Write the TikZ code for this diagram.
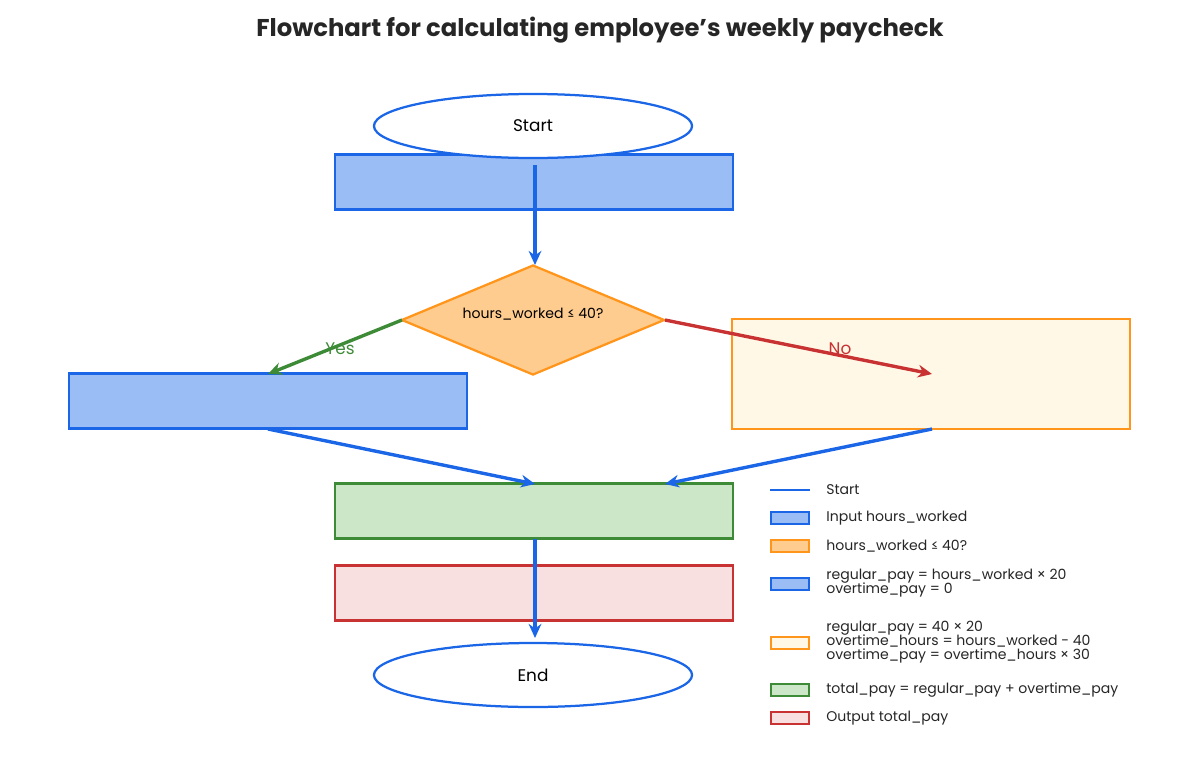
\documentclass[tikz,border=0pt]{standalone}
\usepackage{fontspec}
\setmainfont{Poppins}
\usetikzlibrary{shapes.geometric,arrows.meta}
\definecolor{bl}{HTML}{1A66E6}
\definecolor{blf}{HTML}{9BBDF5}
\definecolor{orf}{HTML}{FFCC8F}
\definecolor{ors}{HTML}{FF951A}
\definecolor{yf}{HTML}{FFF8E6}
\definecolor{gs}{HTML}{3D8B37}
\definecolor{gf}{HTML}{CCE6C8}
\definecolor{rs}{HTML}{C83232}
\definecolor{rf}{HTML}{F8E0E0}
\tikzset{
 box/.style={draw, line width=1.6pt, minimum width=9.95cm, minimum height=1.375cm, inner sep=0pt},
 oval/.style={ellipse, draw=bl, line width=1.6pt, fill=white, minimum width=7.95cm, minimum height=1.6cm, font=\large},
 arr/.style={line width=2.4pt, -{Stealth[length=10pt,width=9pt]}},
 leg/.style={draw, line width=1.3pt, minimum width=0.95cm, minimum height=0.3cm, inner sep=0pt},
 lt/.style={anchor=west, font=\normalsize, align=left, inner sep=0pt, text=black!85}
}
\begin{document}
\begin{tikzpicture}[x=0.025cm,y=-0.025cm]
\useasboundingbox (0,0) rectangle (1200,763);
\node[font=\bfseries\LARGE, text=black!85] (title) at (600,30) {Flowchart for calculating employee's weekly paycheck};
\node[box, draw=bl, fill=blf] (inp) at (534,182) {};
\node[oval] (start) at (533,126) {Start};
\node[diamond, draw=ors, fill=orf, line width=1.6pt, minimum width=6.575cm, minimum height=2.75cm, aspect=2.4, inner sep=0pt] (dec) at (533,320) {};
\node at (533,314) {hours\_worked ≤ 40?};
\node[box, draw=bl, fill=blf] (reg) at (268,401) {};
\node[box, draw=ors, fill=yf, minimum height=2.75cm] (ot) at (931,374) {};
\node[box, draw=gs, fill=gf] (tot) at (534,511) {};
\node[box, draw=rs, fill=rf] (out) at (534,593) {};
\node[oval] (end) at (533,675) {End};
\coordinate (a1) at (535,165);
\coordinate (a2) at (535,265);
\coordinate (dl) at (402,320);
\coordinate (dr) at (665,320);
\coordinate (regt) at (268,374);
\coordinate (regb) at (268,429);
\coordinate (ott) at (932,374);
\coordinate (otb) at (932,429);
\coordinate (totl) at (535,484);
\coordinate (totr) at (665,484);
\coordinate (b1) at (535,539);
\coordinate (b2) at (535,638);
\draw[arr, bl] (a1) -- (a2);
\draw[arr, gs] (dl) -- (regt);
\draw[arr, rs] (dr) -- (ott);
\node[text=gs, font=\large] (yes) at (340,349) {Yes};
\node[text=rs, font=\large] (no) at (840,349) {No};
\draw[arr, bl] (regb) -- (totl);
\draw[arr, bl] (otb) -- (totr);
\draw[arr, bl] (b1) -- (b2);
% legend
\draw[bl, line width=1.6pt] (770,490) coordinate (l0) -- (810,490) coordinate (l0b);
\node[lt] (t0) at (826,490) {Start};
\node[leg, draw=bl, fill=blf] (l1) at (790,518) {};
\node[lt] (t1) at (826,518) {Input hours\_worked};
\node[leg, draw=ors, fill=orf] (l2) at (790,546) {};
\node[lt] (t2) at (826,546) {hours\_worked ≤ 40?};
\node[leg, draw=bl, fill=blf] (l3) at (790,584) {};
\node[lt] (t3) at (826,583) {regular\_pay = hours\_worked × 20\\[-2pt]overtime\_pay = 0};
\node[leg, draw=ors, fill=yf] (l4) at (790,643) {};
\node[lt] (t4) at (826,642) {regular\_pay = 40 × 20\\[-2pt]overtime\_hours = hours\_worked - 40\\[-2pt]overtime\_pay = overtime\_hours × 30};
\node[leg, draw=gs, fill=gf] (l5) at (790,690) {};
\node[lt] (t5) at (826,690) {total\_pay = regular\_pay + overtime\_pay};
\node[leg, draw=rs, fill=rf] (l6) at (790,718) {};
\node[lt] (t6) at (826,718) {Output total\_pay};
\end{tikzpicture}
\end{document}
